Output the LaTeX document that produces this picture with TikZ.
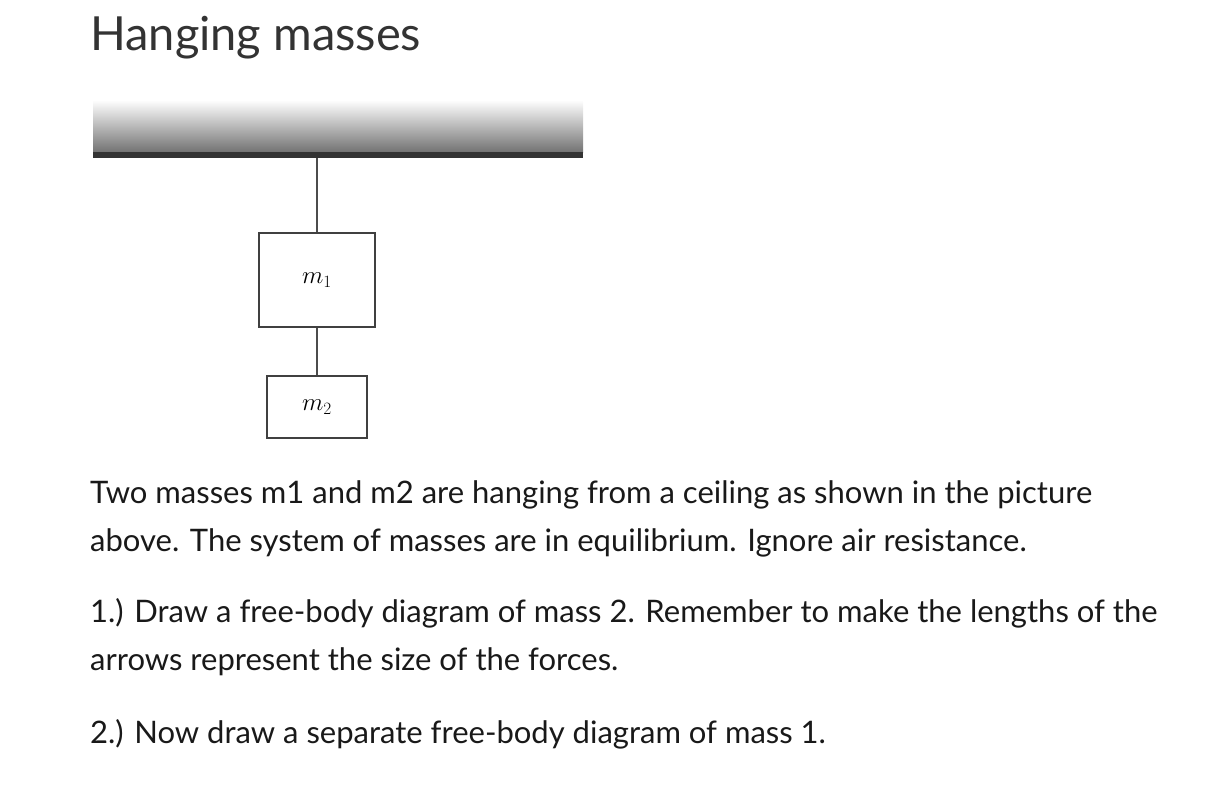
\documentclass[tikz,border=0pt]{standalone}
\usepackage{fontspec}
\setmainfont{Lato}
\begin{document}
\begin{tikzpicture}[x=1pt,y=-1pt,
  txt/.style={anchor=base west,inner sep=0pt,font=\fontsize{31}{36}\selectfont,text=black!90},
  mass/.style={draw=black!75,line width=1.6pt,fill=white,inner sep=0pt},
  rope/.style={draw=black!70,line width=1.4pt}]
\useasboundingbox (0,0) rectangle (1220,798);
\node[txt,font=\fontsize{47}{50}\selectfont,text=black!80] (title) at (90,50) {Hanging masses};
\shade[top color=white,bottom color=black!55] (93,100) rectangle (583,152);
\fill[black!80] (93,152) rectangle (583,158);
\coordinate (ceil) at (317,158);
\node[mass,minimum width=116pt,minimum height=94pt] (m1) at (317,280) {};
\node[mass,minimum width=100pt,minimum height=62pt] (m2) at (317,407) {};
\node at (m1) {\fontsize{27}{27}\selectfont$m_1$};
\node at (m2) {\fontsize{27}{27}\selectfont$m_2$};
\draw[rope] (ceil) -- (m1.north);
\draw[rope] (m1.south) -- (m2.north);
\node[txt] (t1) at (90,503) {Two masses m1 and m2 are hanging from a ceiling as shown in the picture};
\node[txt] (t2) at (90,551) {above. The system of masses are in equilibrium. Ignore air resistance.};
\node[txt] (t3) at (90,622) {1.) Draw a free-body diagram of mass 2. Remember to make the lengths of the};
\node[txt] (t4) at (90,670) {arrows represent the size of the forces.};
\node[txt] (t5) at (90,743) {2.) Now draw a separate free-body diagram of mass 1.};
\end{tikzpicture}
\end{document}
